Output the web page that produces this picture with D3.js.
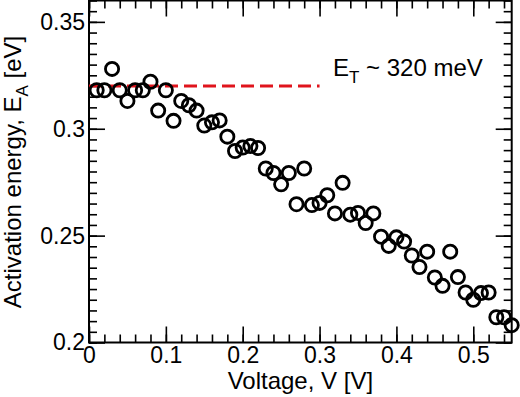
<!DOCTYPE html>
<html>
<head>
<meta charset="utf-8">
<script src="https://cdn.jsdelivr.net/npm/d3@7"></script>
<style>
  body { margin: 0; background: #fff; }
  svg { display: block; font-family: "Liberation Sans", Arial, Helvetica, sans-serif; }
</style>
</head>
<body>
<div id="container"></div>
<script>
const WIDTH = 520;
const HEIGHT = 397;
const MARGIN = {top: 0.5, right: 8.3, bottom: 54.5, left: 89};

const INNER_WIDTH = WIDTH - MARGIN.left - MARGIN.right;
const INNER_HEIGHT = HEIGHT - MARGIN.top - MARGIN.bottom;

// measured points: voltage [V] and activation energy [eV]
const voltage = [0.01, 0.02, 0.03, 0.04, 0.05, 0.06, 0.07, 0.08, 0.09, 0.10,
    0.11, 0.12, 0.13, 0.14, 0.15, 0.16, 0.17, 0.18, 0.19, 0.20,
    0.21, 0.22, 0.23, 0.24, 0.25, 0.26, 0.27, 0.28, 0.29, 0.30,
    0.31, 0.32, 0.33, 0.34, 0.35, 0.36, 0.37, 0.38, 0.39, 0.40,
    0.41, 0.42, 0.43, 0.44, 0.45, 0.46, 0.47, 0.48, 0.49, 0.50,
    0.51, 0.52, 0.53, 0.54, 0.55];
const energy = [0.318, 0.318, 0.328, 0.318, 0.313, 0.318, 0.318, 0.322, 0.3085, 0.318,
    0.3037, 0.313, 0.311, 0.3085, 0.3015, 0.303, 0.3039, 0.2963, 0.2896, 0.2912,
    0.2919, 0.291, 0.2814, 0.2793, 0.274, 0.2793, 0.2647, 0.2814, 0.2643, 0.2653,
    0.2689, 0.2604, 0.2747, 0.2598, 0.2606, 0.2559, 0.2604, 0.2495, 0.2452, 0.2492,
    0.2472, 0.2407, 0.2353, 0.2425, 0.2304, 0.2265, 0.2425, 0.2306, 0.2234, 0.22,
    0.2231, 0.2234, 0.2118, 0.2118, 0.2081];

// threshold line E_T ~ 320 meV
const thresholdV = [0, 0.3];
const thresholdE = [0.32, 0.32];

const xTickValues = [0, 0.1, 0.2, 0.3, 0.4, 0.5];
const xTickLabels = ["0", "0.1", "0.2", "0.3", "0.4", "0.5"];
const yTickValues = [0.2, 0.25, 0.3, 0.35];
const yTickLabels = ["0.2", "0.25", "0.3", "0.35"];

var translate = function (x, y) {
    return "translate(" + x + "," + y + ")";
};

var createChart = function () {
    var data = voltage.map(function (v, i) { return {x: v, y: energy[i]}; });

    var svg = d3.select("#container")
        .append("svg")
        .attr("width", WIDTH)
        .attr("height", HEIGHT);

    var xScale = d3.scaleLinear().domain([0, 0.55]).range([0, INNER_WIDTH]);
    var yScale = d3.scaleLinear().domain([0.2, 0.36]).range([INNER_HEIGHT, 0]);

    var xMinor = d3.range(0, 0.551, 0.02).map(function (d) { return +d.toFixed(2); });
    var yMinor = d3.range(0.2, 0.3601, 0.005).map(function (d) { return +d.toFixed(3); });

    var g = svg.append("g").attr("transform", translate(MARGIN.left, MARGIN.top));

    // ticks on all four sides, pointing inward
    var axes = [
        {axis: d3.axisBottom, at: translate(0, INNER_HEIGHT), scale: xScale, major: xTickValues, minor: xMinor, labels: xTickLabels},
        {axis: d3.axisTop, at: translate(0, 0), scale: xScale, major: xTickValues, minor: xMinor, labels: null},
        {axis: d3.axisLeft, at: translate(0, 0), scale: yScale, major: yTickValues, minor: yMinor, labels: yTickLabels},
        {axis: d3.axisRight, at: translate(INNER_WIDTH, 0), scale: yScale, major: yTickValues, minor: yMinor, labels: null}
    ];

    axes.forEach(function (a) {
        g.append("g")
            .attr("transform", a.at)
            .call(a.axis(a.scale).tickValues(a.minor).tickSize(-8).tickFormat(""))
            .call(function (s) { s.select(".domain").remove(); });

        var major = g.append("g")
            .attr("transform", a.at)
            .call(a.axis(a.scale).tickValues(a.major).tickSize(-16).tickPadding(4)
                .tickFormat(function (d, i) { return a.labels ? a.labels[i] : ""; }))
            .call(function (s) { s.select(".domain").remove(); });

        major.selectAll("text")
            .attr("font-family", null)
            .style("font-size", "23px")
            .attr("fill", "#000");
    });

    g.selectAll(".tick line")
        .attr("stroke", "#000")
        .attr("stroke-width", 1.6);

    // frame
    g.append("rect")
        .attr("width", INNER_WIDTH)
        .attr("height", INNER_HEIGHT)
        .attr("fill", "none")
        .attr("stroke", "#000")
        .attr("stroke-width", 2);

    var line = d3.line()
        .x(function (d) { return xScale(d); })
        .y(function (d, i) { return yScale(thresholdE[i]); });

    g.append("path")
        .attr("d", line(thresholdV))
        .attr("stroke", "#e0141c")
        .attr("stroke-width", 3)
        .attr("stroke-dasharray", "13,6")
        .attr("fill", "none");

    g.selectAll("circle.pt").data(data)
        .enter()
        .append("circle")
        .attr("class", "pt")
        .attr("r", 6.6)
        .attr("cx", function (d) { return xScale(d.x); })
        .attr("cy", function (d) { return yScale(d.y); })
        .attr("fill", "none")
        .attr("stroke", "#000")
        .attr("stroke-width", 2.8);

    // annotation
    var note = svg.append("text")
        .attr("x", 333)
        .attr("y", 76)
        .style("font-size", "24px")
        .text("E");
    note.append("tspan").attr("dy", 7).style("font-size", "17px").text("T");
    note.append("tspan").attr("dy", -7).text(" ~ 320 meV");

    // axis titles
    svg.append("text")
        .attr("x", MARGIN.left + INNER_WIDTH / 2)
        .attr("y", 389)
        .attr("text-anchor", "middle")
        .style("font-size", "24px")
        .text("Voltage, V [V]");

    var yTitle = svg.append("text")
        .attr("transform", translate(21, 172) + " rotate(-90)")
        .attr("text-anchor", "middle")
        .style("font-size", "24px")
        .text("Activation energy, E");
    yTitle.append("tspan").attr("dy", 7).style("font-size", "17px").text("A");
    yTitle.append("tspan").attr("dy", -7).text(" [eV]");
};

window.onload = createChart;
</script>
</body>
</html>
